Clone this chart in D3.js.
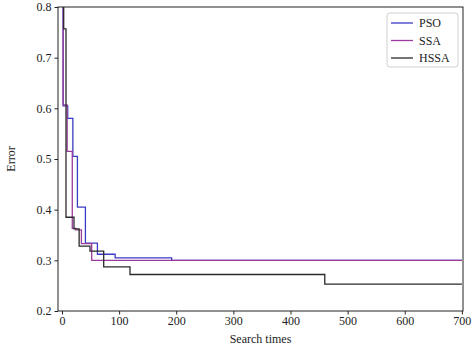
<!DOCTYPE html>
<html>
<head>
<meta charset="utf-8">
<script src="https://cdn.jsdelivr.net/npm/d3@7/dist/d3.min.js"></script>
<style>
  body { margin: 0; background: #fff; }
  svg { display: block; }
  svg text { font-family: "Times New Roman", "Liberation Serif", Tinos, serif; }
</style>
</head>
<body>
<svg id="chart" width="474" height="349"></svg>
<script>
// Search times at which each algorithm's best error changes (step-after)
const psoX  = [0, 2, 10, 19, 27, 41, 62, 93, 192, 700];
const psoY  = [0.85, 0.605, 0.58, 0.505, 0.405, 0.334, 0.312, 0.305, 0.300, 0.300];
const ssaX  = [0, 2, 9, 18, 24, 34, 52, 700];
const ssaY  = [0.85, 0.607, 0.515, 0.363, 0.36, 0.333, 0.300, 0.300];
const hssaX = [0, 3, 7, 21, 30, 49, 73, 119, 460, 700];
const hssaY = [0.85, 0.757, 0.385, 0.362, 0.328, 0.318, 0.287, 0.272, 0.253, 0.253];

const seriesNames  = ["PSO", "SSA", "HSSA"];
const seriesColors = ["#3b3bc4", "#9a3c9c", "#2a2a2a"];
const xTicks = [0, 100, 200, 300, 400, 500, 600, 700];
const yTicks = [0.2, 0.3, 0.4, 0.5, 0.6, 0.7, 0.8];

const series = [
  { name: seriesNames[0], color: seriesColors[0], pts: psoX.map((x, i) => [x, psoY[i]]) },
  { name: seriesNames[1], color: seriesColors[1], pts: ssaX.map((x, i) => [x, ssaY[i]]) },
  { name: seriesNames[2], color: seriesColors[2], pts: hssaX.map((x, i) => [x, hssaY[i]]) }
];

const FONT = '"Times New Roman", "Liberation Serif", Tinos, serif';
const svg = d3.select("#chart");
const plotL = 58, plotR = 463, plotT = 7, plotB = 311;

const x = d3.scaleLinear().domain([-7, 702]).range([plotL, plotR]);
const y = d3.scaleLinear().domain([0.2, 0.8]).range([plotB, plotT]);

svg.append("defs").append("clipPath").attr("id", "plotclip")
  .append("rect").attr("x", plotL).attr("y", plotT)
  .attr("width", plotR - plotL).attr("height", plotB - plotT);

const line = d3.line()
  .x(d => x(d[0])).y(d => y(d[1]))
  .curve(d3.curveStepAfter);

const g = svg.append("g").attr("clip-path", "url(#plotclip)");
series.forEach(s => {
  g.append("path")
    .attr("d", line(s.pts))
    .attr("fill", "none")
    .attr("stroke", s.color)
    .attr("stroke-width", 1.3);
});

// Frame
svg.append("rect")
  .attr("x", plotL).attr("y", plotT)
  .attr("width", plotR - plotL).attr("height", plotB - plotT)
  .attr("fill", "none").attr("stroke", "#222").attr("stroke-width", 1);

// Axes
const xAxis = svg.append("g")
  .attr("transform", `translate(0,${plotB})`)
  .call(d3.axisBottom(x).tickValues(xTicks).tickSize(3.5).tickPadding(2).tickFormat(d3.format("d")));
const yAxis = svg.append("g")
  .attr("transform", `translate(${plotL},0)`)
  .call(d3.axisLeft(y).tickValues(yTicks).tickSize(3.5).tickPadding(3).tickFormat(d3.format(".1f")));

[xAxis, yAxis].forEach(a => {
  a.attr("font-family", FONT).attr("font-size", 12);
  a.select(".domain").remove();
  a.selectAll(".tick line").attr("stroke", "#222");
  a.selectAll(".tick text").attr("fill", "#222");
});

// Axis titles
svg.append("text")
  .attr("x", (plotL + plotR) / 2).attr("y", 343)
  .attr("text-anchor", "middle")
  .attr("font-family", FONT).attr("font-size", 12)
  .attr("fill", "#222")
  .text("Search times");

svg.append("text")
  .attr("transform", `translate(15,${(plotT + plotB) / 2}) rotate(-90)`)
  .attr("text-anchor", "middle")
  .attr("font-family", FONT).attr("font-size", 12)
  .attr("fill", "#222")
  .text("Error");

// Legend
const lg = svg.append("g").attr("transform", "translate(387,13)");
lg.append("rect")
  .attr("width", 71).attr("height", 54)
  .attr("rx", 3)
  .attr("fill", "#fff").attr("stroke", "#d0d0d0");
series.forEach((s, i) => {
  const yy = 10 + i * 17.5;
  lg.append("line")
    .attr("x1", 4).attr("x2", 26).attr("y1", yy).attr("y2", yy)
    .attr("stroke", s.color).attr("stroke-width", 1.3);
  lg.append("text")
    .attr("x", 32).attr("y", yy + 4)
    .attr("font-family", FONT).attr("font-size", 12)
    .attr("fill", "#222")
    .text(s.name);
});
</script>
</body>
</html>
